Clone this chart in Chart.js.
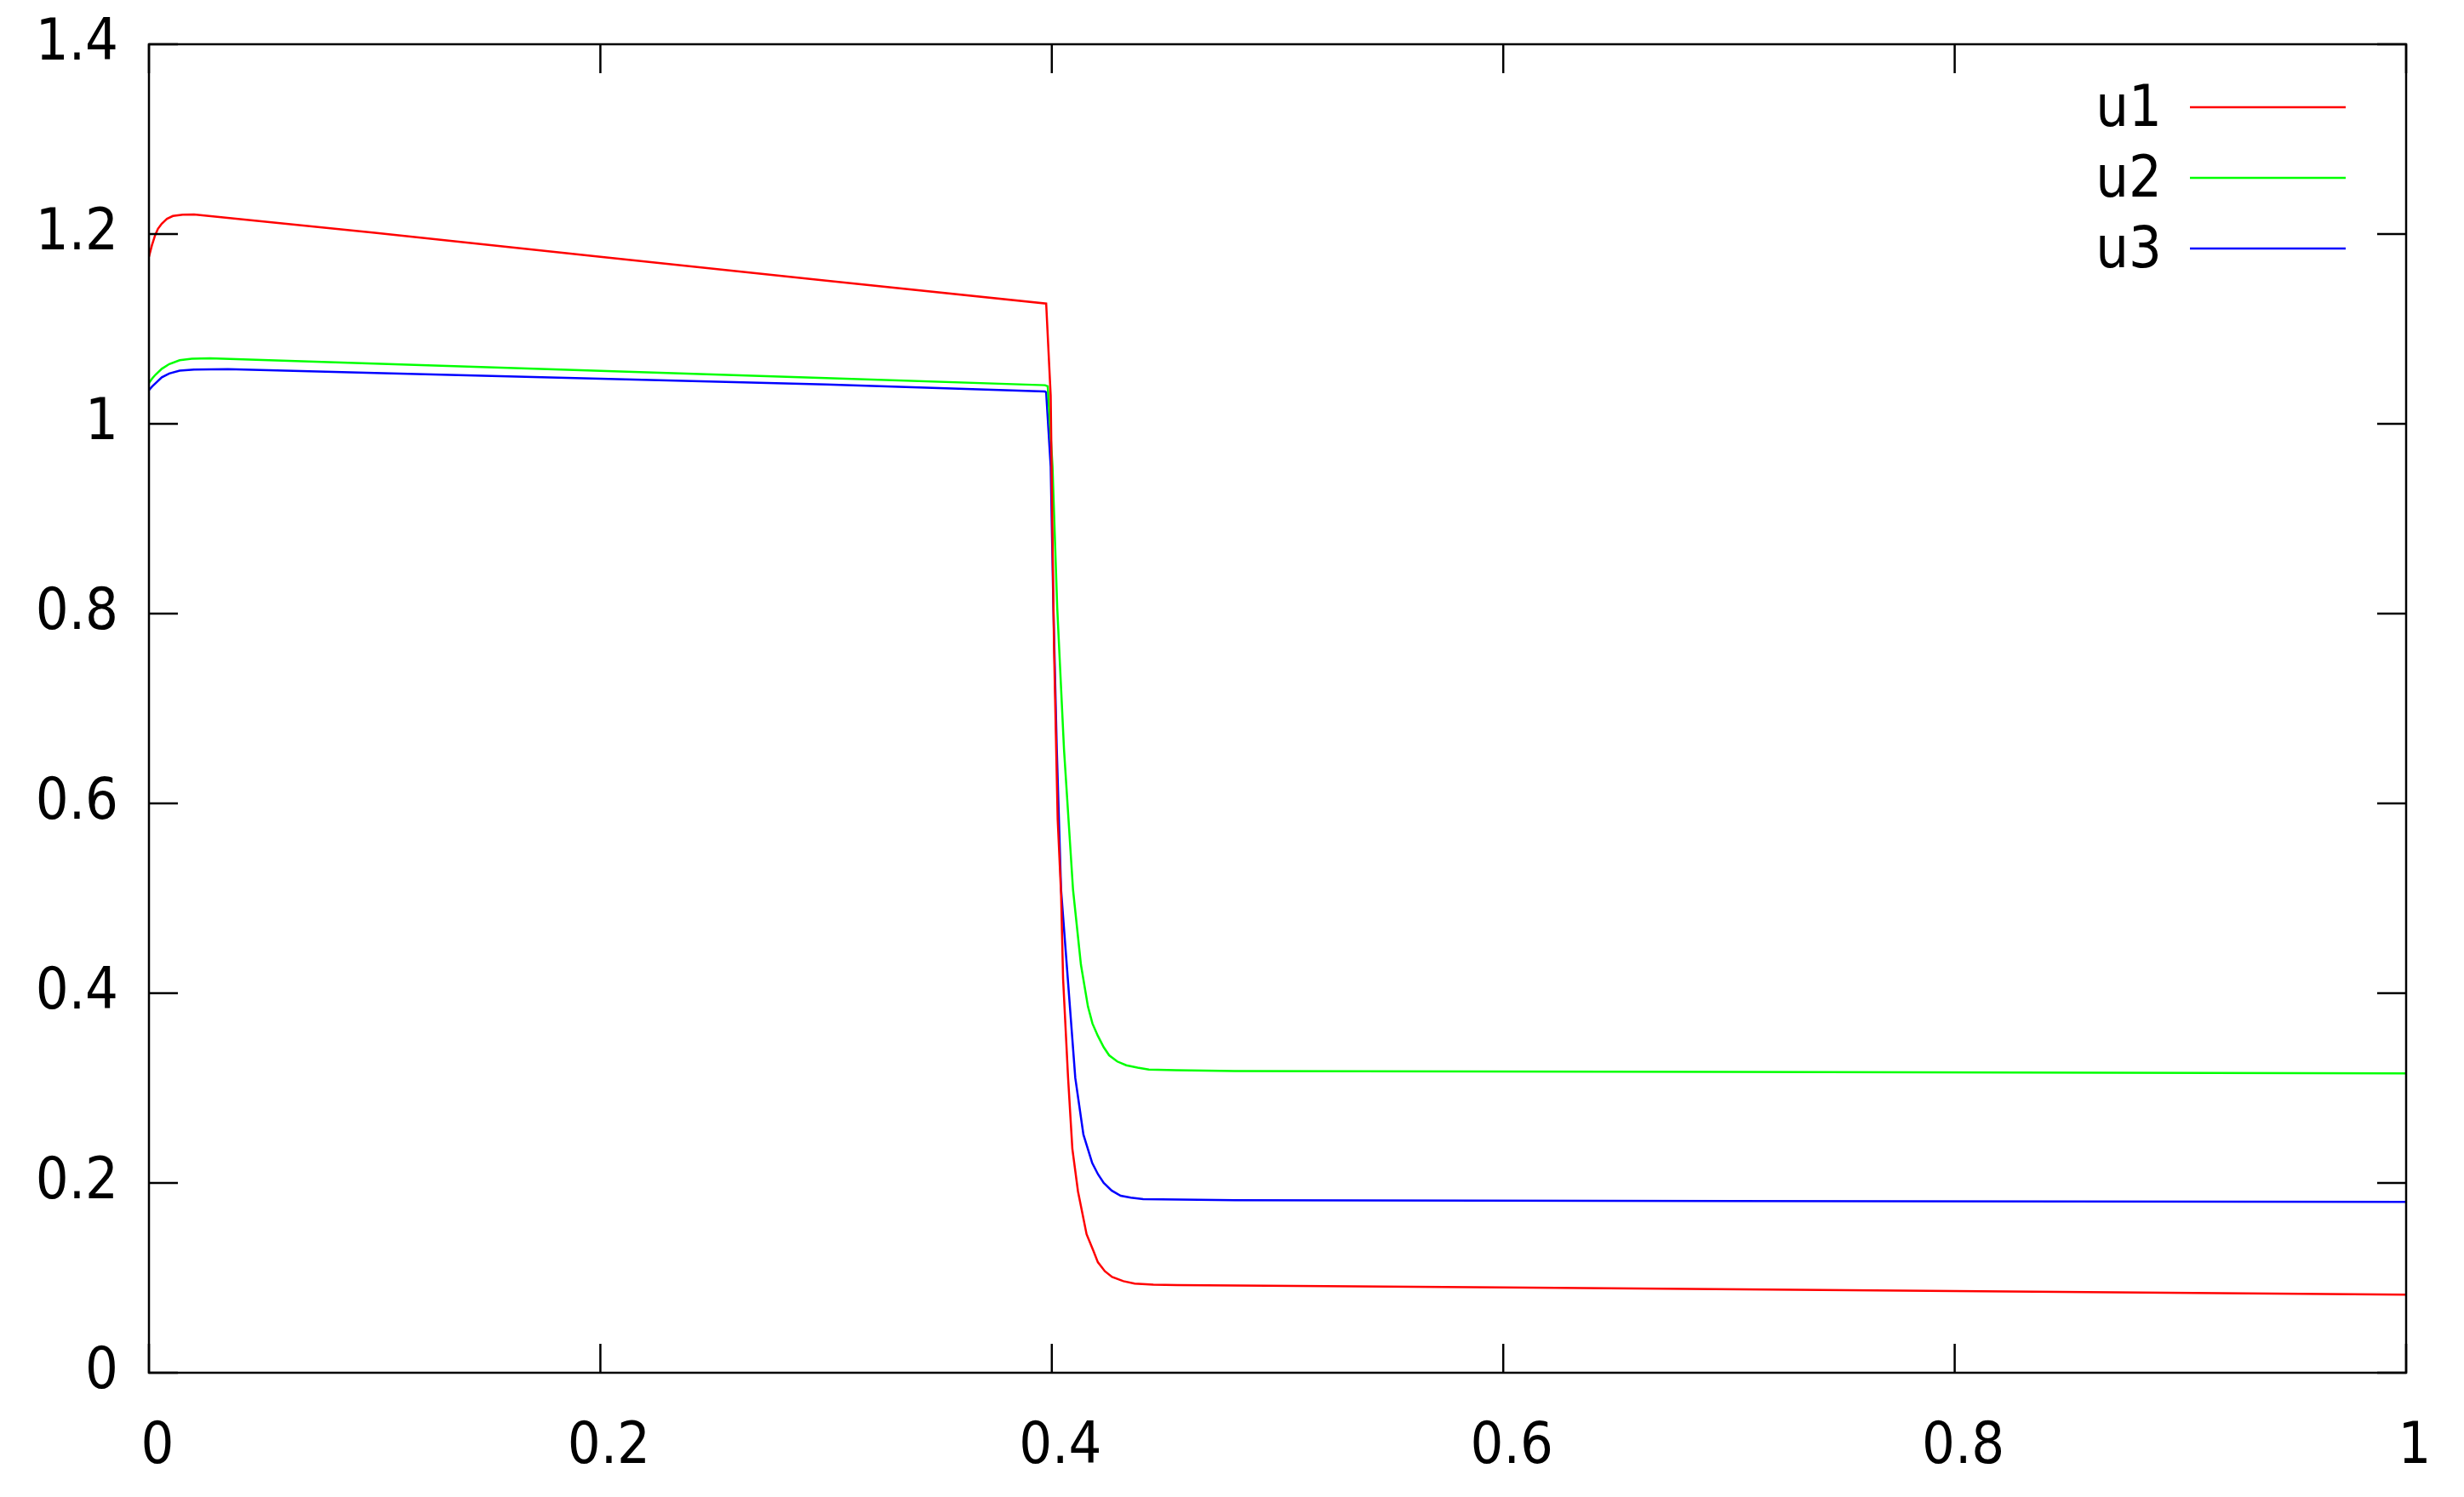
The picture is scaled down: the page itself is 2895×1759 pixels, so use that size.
<!DOCTYPE html>
<html>
<head>
<meta charset="utf-8">
<script src="https://cdn.jsdelivr.net/npm/chart.js@4"></script>
<style>
  html, body { margin: 0; padding: 0; background: #fff; }
  canvas { display: block; }
</style>
</head>
<body>
<canvas id="plot" width="2895" height="1759"></canvas>
<script>
// series
const u1X = [0, 0.0013, 0.0027, 0.004, 0.0057, 0.008, 0.0106, 0.015, 0.020, 0.1, 0.2, 0.3, 0.3975, 0.3995, 0.4003, 0.401, 0.4026, 0.4041, 0.405, 0.4072, 0.4091, 0.4116, 0.4154, 0.4185, 0.4204, 0.4235, 0.4267, 0.4317, 0.4367, 0.445, 0.4556, 0.6, 0.8, 1.0];
const u1Y = [1.176, 1.188, 1.1985, 1.2055, 1.211, 1.216, 1.219, 1.2203, 1.2206, 1.2013, 1.176, 1.151, 1.1267, 1.0296, 0.8807, 0.762, 0.583, 0.505, 0.415, 0.311, 0.236, 0.191, 0.146, 0.128, 0.1165, 0.107, 0.101, 0.0965, 0.094, 0.0928, 0.0924, 0.0899, 0.0862, 0.0822];

const u2X = [0, 0.0015, 0.003, 0.0057, 0.009, 0.0136, 0.019, 0.027, 0.1, 0.2, 0.3, 0.397, 0.3982, 0.4003, 0.4024, 0.4054, 0.4094, 0.4129, 0.416, 0.418, 0.4204, 0.423, 0.4254, 0.429, 0.433, 0.438, 0.443, 0.455, 0.481, 0.7, 1.0];
const u2Y = [1.043, 1.048, 1.052, 1.058, 1.063, 1.067, 1.0685, 1.069, 1.0635, 1.0558, 1.0482, 1.0407, 1.0395, 0.955, 0.806, 0.657, 0.509, 0.430, 0.386, 0.368, 0.355, 0.343, 0.3345, 0.328, 0.324, 0.3215, 0.3196, 0.3188, 0.318, 0.317, 0.3155];

const u3X = [0, 0.0015, 0.003, 0.0057, 0.009, 0.0136, 0.02, 0.035, 0.1, 0.2, 0.3, 0.397, 0.3975, 0.3995, 0.4007, 0.4022, 0.4041, 0.4104, 0.414, 0.4179, 0.4205, 0.423, 0.4265, 0.4305, 0.435, 0.4405, 0.481, 0.7, 1.0];
const u3Y = [1.0356, 1.0395, 1.043, 1.049, 1.053, 1.056, 1.0572, 1.0577, 1.0535, 1.0475, 1.0415, 1.034, 1.033, 0.955, 0.806, 0.657, 0.509, 0.3106, 0.251, 0.221, 0.209, 0.200, 0.192, 0.1865, 0.1845, 0.183, 0.1818, 0.181, 0.180];

const seriesNames = ["u1", "u2", "u3"];
const seriesColors = ["#ff0000", "#00ff00", "#0000ff"];

const xTicks = [0, 0.2, 0.4, 0.6, 0.8, 1];
const yTicks = [0, 0.2, 0.4, 0.6, 0.8, 1, 1.2, 1.4];

const FONT = "'DejaVu Sans Condensed', 'DejaVu Sans', sans-serif";

function pts(xs, ys) {
  return xs.map((x, i) => ({ x: x, y: ys[i] }));
}

// gnuplot-like frame: border, inward ticks on all sides, legend in top right
const gnuFrame = {
  id: "gnuFrame",
  afterDraw(chart) {
    const ctx = chart.ctx;
    const a = chart.chartArea;
    const xs = chart.scales.x, ys = chart.scales.y;
    const tl = 34;
    ctx.save();
    ctx.strokeStyle = "#000";
    ctx.lineWidth = 2.5;
    ctx.beginPath();
    xTicks.forEach(v => {
      const px = xs.getPixelForValue(v);
      ctx.moveTo(px, a.bottom); ctx.lineTo(px, a.bottom - tl);
      ctx.moveTo(px, a.top); ctx.lineTo(px, a.top + tl);
    });
    yTicks.forEach(v => {
      const py = ys.getPixelForValue(v);
      ctx.moveTo(a.left, py); ctx.lineTo(a.left + tl, py);
      ctx.moveTo(a.right, py); ctx.lineTo(a.right - tl, py);
    });
    ctx.stroke();
    ctx.strokeRect(a.left, a.top, a.right - a.left, a.bottom - a.top);

    // legend
    ctx.font = "68px " + FONT;
    ctx.textAlign = "right";
    ctx.textBaseline = "middle";
    chart.data.datasets.forEach((ds, i) => {
      const y = a.top + 74 + i * 83;
      ctx.fillStyle = "#000";
      ctx.fillText(ds.label, a.right - 287, y + 4);
      ctx.strokeStyle = ds.borderColor;
      ctx.lineWidth = 2.5;
      ctx.beginPath();
      ctx.moveTo(a.right - 254, y);
      ctx.lineTo(a.right - 71, y);
      ctx.stroke();
    });
    ctx.restore();
  }
};

const ctx = document.getElementById("plot").getContext("2d");
new Chart(ctx, {
  type: "line",
  data: {
    datasets: [
      { label: seriesNames[0], data: pts(u1X, u1Y), borderColor: seriesColors[0] },
      { label: seriesNames[1], data: pts(u2X, u2Y), borderColor: seriesColors[1] },
      { label: seriesNames[2], data: pts(u3X, u3Y), borderColor: seriesColors[2] }
    ]
  },
  options: {
    responsive: false,
    animation: false,
    devicePixelRatio: 1,
    layout: { padding: { top: 52, right: 68, left: 0, bottom: 0 } },
    elements: {
      point: { radius: 0 },
      line: { borderWidth: 2.5, tension: 0 }
    },
    plugins: {
      legend: { display: false },
      tooltip: { enabled: false }
    },
    scales: {
      x: {
        type: "linear",
        min: 0,
        max: 1,
        afterBuildTicks: s => { s.ticks = xTicks.map(v => ({ value: v })); },
        afterFit: s => { s.height = 146; s.paddingLeft = 0; s.paddingRight = 0; },
        grid: { display: false, drawTicks: false },
        border: { display: false },
        ticks: {
          color: "#000",
          font: { family: FONT, size: 68 },
          padding: 48,
          labelOffset: 10,
          maxRotation: 0,
          callback: v => String(+v.toFixed(1))
        }
      },
      y: {
        type: "linear",
        min: 0,
        max: 1.4,
        afterBuildTicks: s => { s.ticks = yTicks.map(v => ({ value: v })); },
        afterFit: s => { s.width = 175; s.paddingTop = 0; s.paddingBottom = 0; },
        grid: { display: false, drawTicks: false },
        border: { display: false },
        ticks: {
          color: "#000",
          font: { family: FONT, size: 68 },
          padding: 36,
          callback: v => String(+v.toFixed(1))
        }
      }
    }
  },
  plugins: [gnuFrame]
});
</script>
</body>
</html>
